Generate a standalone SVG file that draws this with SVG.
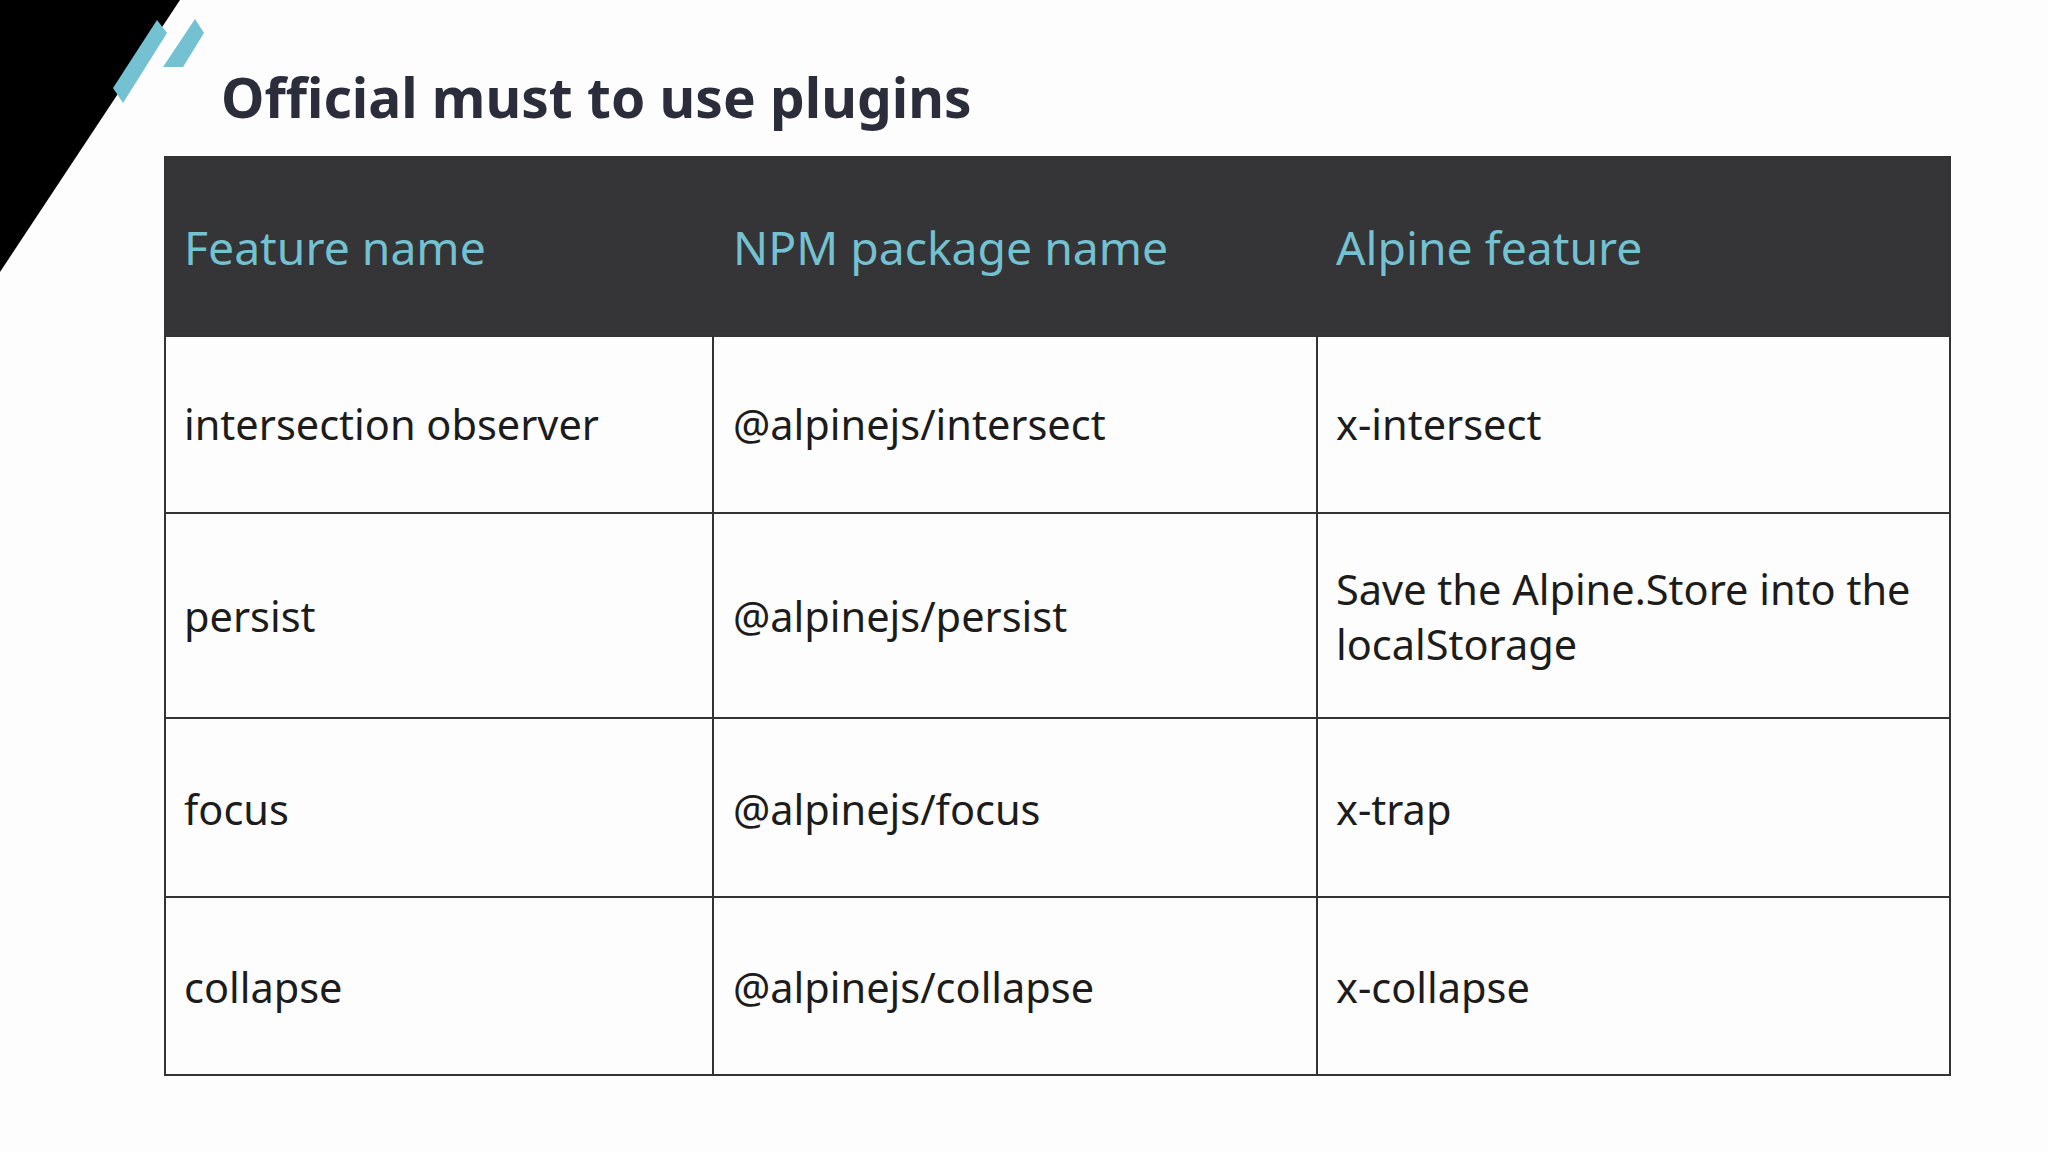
<svg xmlns="http://www.w3.org/2000/svg" width="2048" height="1152" viewBox="0 0 2048 1152">
<style>
.t{font-family:"Noto Sans","Open Sans",sans-serif;font-size:41.5px;fill:#1c1c1c}
.h{font-family:"Noto Sans","Open Sans",sans-serif;font-size:46.3px;fill:#73c1d1}
.ln{stroke:#333;stroke-width:2;fill:none}
</style>
<rect width="2048" height="1152" fill="#fdfdfd"/>
<polygon points="0,0 180,0 0,272" fill="#000"/>
<polygon points="157,20 167,33 123,103 113,88" fill="#73c1d1"/>
<polygon points="195,19 204,33 183,67 163,67" fill="#73c1d1"/>
<text x="221" y="118" font-family="Noto Sans,Open Sans,sans-serif" font-weight="bold" font-size="55" fill="#2b2e3a">Official must to use plugins</text>
<g id="table">
<rect x="165" y="157" width="1785" height="179" fill="#353436"/>
<rect x="165" y="157" width="1785" height="918" class="ln"/>
<path class="ln" d="M165 336H1950M165 513H1950M165 718H1950M165 897H1950M713 336V1075M1317 336V1075"/>
</g>
<g id="header">
<text class="h" x="184" y="265">Feature name</text>
<text class="h" x="733" y="265">NPM package name</text>
<text class="h" x="1336" y="265">Alpine feature</text>
</g>
<g id="rows">
<text class="t" x="184" y="440">intersection observer</text>
<text class="t" x="733" y="440">@alpinejs/intersect</text>
<text class="t" x="1336" y="440">x-intersect</text>
<text class="t" x="184" y="632">persist</text>
<text class="t" x="733" y="632">@alpinejs/persist</text>
<text class="t" x="1336" y="605">Save the Alpine.Store into the</text>
<text class="t" x="1336" y="660">localStorage</text>
<text class="t" x="184" y="825">focus</text>
<text class="t" x="733" y="825">@alpinejs/focus</text>
<text class="t" x="1336" y="825">x-trap</text>
<text class="t" x="184" y="1003">collapse</text>
<text class="t" x="733" y="1003">@alpinejs/collapse</text>
<text class="t" x="1336" y="1003">x-collapse</text>
</g>
</svg>
